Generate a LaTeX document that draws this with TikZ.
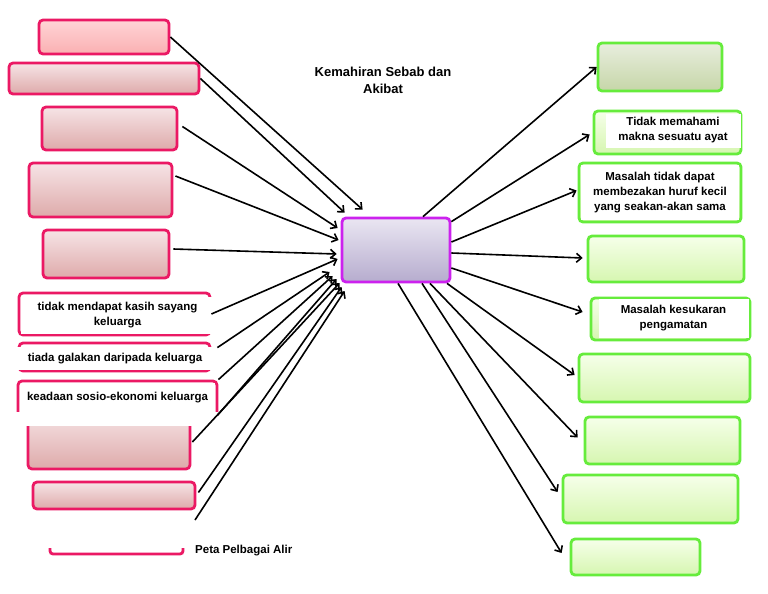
\documentclass[tikz,border=0pt]{standalone}
\usepackage{fontspec}
\setmainfont{Liberation Sans}
\usetikzlibrary{arrows.meta,calc}
\definecolor{pinkB}{RGB}{235,25,100}
\definecolor{pinkT}{RGB}{246,228,230}
\definecolor{pinkBot}{RGB}{222,170,170}
\definecolor{pinkT1}{RGB}{255,212,214}
\definecolor{pinkBot1}{RGB}{250,176,178}
\definecolor{greenB}{RGB}{102,236,60}
\definecolor{greenT}{RGB}{246,255,234}
\definecolor{greenBot}{RGB}{214,246,176}
\definecolor{grayT}{RGB}{232,238,222}
\definecolor{grayBot}{RGB}{198,214,168}
\definecolor{purB}{RGB}{204,34,238}
\definecolor{purT}{RGB}{234,230,242}
\definecolor{purBot}{RGB}{182,172,206}
\tikzset{
  box/.style={rounded corners=4pt, line width=2.8pt, inner sep=0pt},
  pinkbox/.style={box, draw=pinkB, top color=pinkT, bottom color=pinkBot},
  pinkwhite/.style={box, draw=pinkB, fill=white},
  greenbox/.style={box, draw=greenB, top color=greenT, bottom color=greenBot},
  purbox/.style={box, draw=purB, top color=purT, bottom color=purBot},
  txt/.style={font=\fontsize{11.5}{15}\selectfont\bfseries, align=center, fill=white, inner sep=0pt},
  arr/.style={line width=1.6pt, -{Straight Barb[length=5pt,width=9pt]}}
}
\begin{document}
\begin{tikzpicture}[x=1pt,y=-1pt]
\useasboundingbox (0,0) rectangle (768,594);
\fill[white] (0,0) rectangle (768,594);

% left boxes
\node[box, draw=pinkB, top color=pinkT1, bottom color=pinkBot1, minimum width=130pt, minimum height=34pt] (L1) at (104,37) {};
\node[pinkbox, minimum width=190pt, minimum height=31pt] (L2) at (104,78.5) {};
\node[pinkbox, minimum width=135pt, minimum height=43pt] (L3) at (109.5,128.5) {};
\node[pinkbox, minimum width=143pt, minimum height=54pt] (L4) at (100.5,190) {};
\node[pinkbox, minimum width=126pt, minimum height=48pt] (L5) at (106,254) {};
\node[pinkwhite, minimum width=191pt, minimum height=42pt] (L6) at (114.5,314) {};
\node[txt, minimum width=193pt, minimum height=37pt] (T6) at (117.5,315) {tidak mendapat kasih sayang\\keluarga};
\node[pinkwhite, minimum width=191pt, minimum height=28pt] (L7) at (114.5,357) {};
\node[txt, minimum width=200pt, minimum height=23pt] (T7) at (115,358.5) {tiada galakan daripada keluarga};
\node[pinkwhite, minimum width=199pt, minimum height=42pt] (L8) at (117.5,402) {};
\node[pinkbox, minimum width=162pt, minimum height=58pt] (L9) at (109,440) {};
\node[txt, minimum width=194pt, minimum height=30pt] (T8) at (117.5,398) {keadaan sosio-ekonomi keluarga};
\fill[white] (8,412) rectangle (225,426);
\node[pinkbox, minimum width=162pt, minimum height=27pt] (L10) at (114,495.5) {};

% legend
\draw[pinkB, line width=2.8pt, rounded corners=3pt] (50,548) -- (50,554) -- (183,554) -- (183,548);
\node[font=\fontsize{11.5}{14}\selectfont\bfseries, anchor=west, inner sep=0pt] (leg) at (195,551) {Peta Pelbagai Alir};

% title
\node[font=\fontsize{13}{17}\selectfont\bfseries, align=center, inner sep=0pt] (title) at (383,80.5) {Kemahiran Sebab dan\\Akibat};

% centre
\node[purbox, minimum width=108pt, minimum height=64pt] (C) at (396,250) {};

% right boxes
\node[box, draw=greenB, top color=grayT, bottom color=grayBot, minimum width=124pt, minimum height=48pt] (R1) at (660,67) {};
\node[greenbox, minimum width=147pt, minimum height=43pt] (R2) at (667.5,132.5) {};
\node[txt, minimum width=135pt, minimum height=34pt] (T2) at (673,130.5) {Tidak memahami\\makna sesuatu ayat};
\node[greenbox, minimum width=162pt, minimum height=59pt] (R3) at (660,192.5) {};
\node[txt, minimum width=158pt, minimum height=55pt] (T3) at (660,192.5) {Masalah tidak dapat\\membezakan huruf kecil\\yang seakan-akan sama};
\node[greenbox, minimum width=156pt, minimum height=46pt] (R4) at (666,259) {};
\node[greenbox, minimum width=159pt, minimum height=42pt] (R5) at (670.5,319) {};
\node[txt, minimum width=150pt, minimum height=39pt] (T5) at (673.5,318.5) {Masalah kesukaran\\pengamatan};
\node[greenbox, minimum width=171pt, minimum height=48pt] (R6) at (664.5,378) {};
\node[greenbox, minimum width=155pt, minimum height=47pt] (R7) at (662.5,440.5) {};
\node[greenbox, minimum width=175pt, minimum height=48pt] (R8) at (650.5,499) {};
\node[greenbox, minimum width=129pt, minimum height=36pt] (R9) at (635.5,557) {};

% free end below L10
\coordinate (free) at (195,520);

% left arrows into centre
\draw[arr] (L1.east) -- ($(C.north west)+(22,-7)$);
\draw[arr] (L2.east) -- ($(C.north west)+(4,-4)$);
\draw[arr] ($(L3.east)+(4,-2)$) -- ($(C.west)+(-3,-22)$);
\draw[arr] ($(L4.east)+(2,-14)$) -- ($(C.west)+(-2,-10)$);
\draw[arr] ($(L5.east)+(3,-5)$) -- ($(C.west)+(-4,4)$);
\draw[arr] (L6.east) -- ($(C.west)+(-3,9)$);
\draw[arr] ($(L7.north east)+(6,6)$) -- ($(C.west)+(-11,22)$);
\draw[arr] (L8.north east) -- ($(C.west)+(-8,26)$);
\draw[arr] ($(L8.south east)+(-1,-9)$) -- ($(C.west)+(-4,29)$);
\draw[arr] ($(L9.east)+(1,2)$) -- ($(C.west)+(-1,33)$);
\draw[arr] ($(L10.east)+(2,-3)$) -- ($(C.west)+(1,37)$);
\draw[arr] (free) -- ($(C.west)+(4,41)$);

% right arrows out of centre
\draw[arr] ($(C.north)+(27,0)$) -- (R1.west);
\draw[arr] ($(C.north east)+(0,5)$) -- ($(R2.west)+(-3,2)$);
\draw[arr] ($(C.east)+(0,-8)$) -- ($(R3.west)+(-1,-2)$);
\draw[arr] ($(C.east)+(0,3)$) -- ($(R4.west)+(-4,-1)$);
\draw[arr] ($(C.east)+(0,18)$) -- ($(R5.west)+(-7,-7)$);
\draw[arr] ($(C.south)+(51,0)$) -- ($(R6.west)+(-3,-3)$);
\draw[arr] ($(C.south)+(34,0)$) -- ($(R7.west)+(-6,-3)$);
\draw[arr] ($(C.south)+(26,0)$) -- ($(R8.west)+(-4,-7)$);
\draw[arr] ($(C.south)+(2,0)$) -- ($(R9.west)+(-8,-4)$);
\end{tikzpicture}
\end{document}
